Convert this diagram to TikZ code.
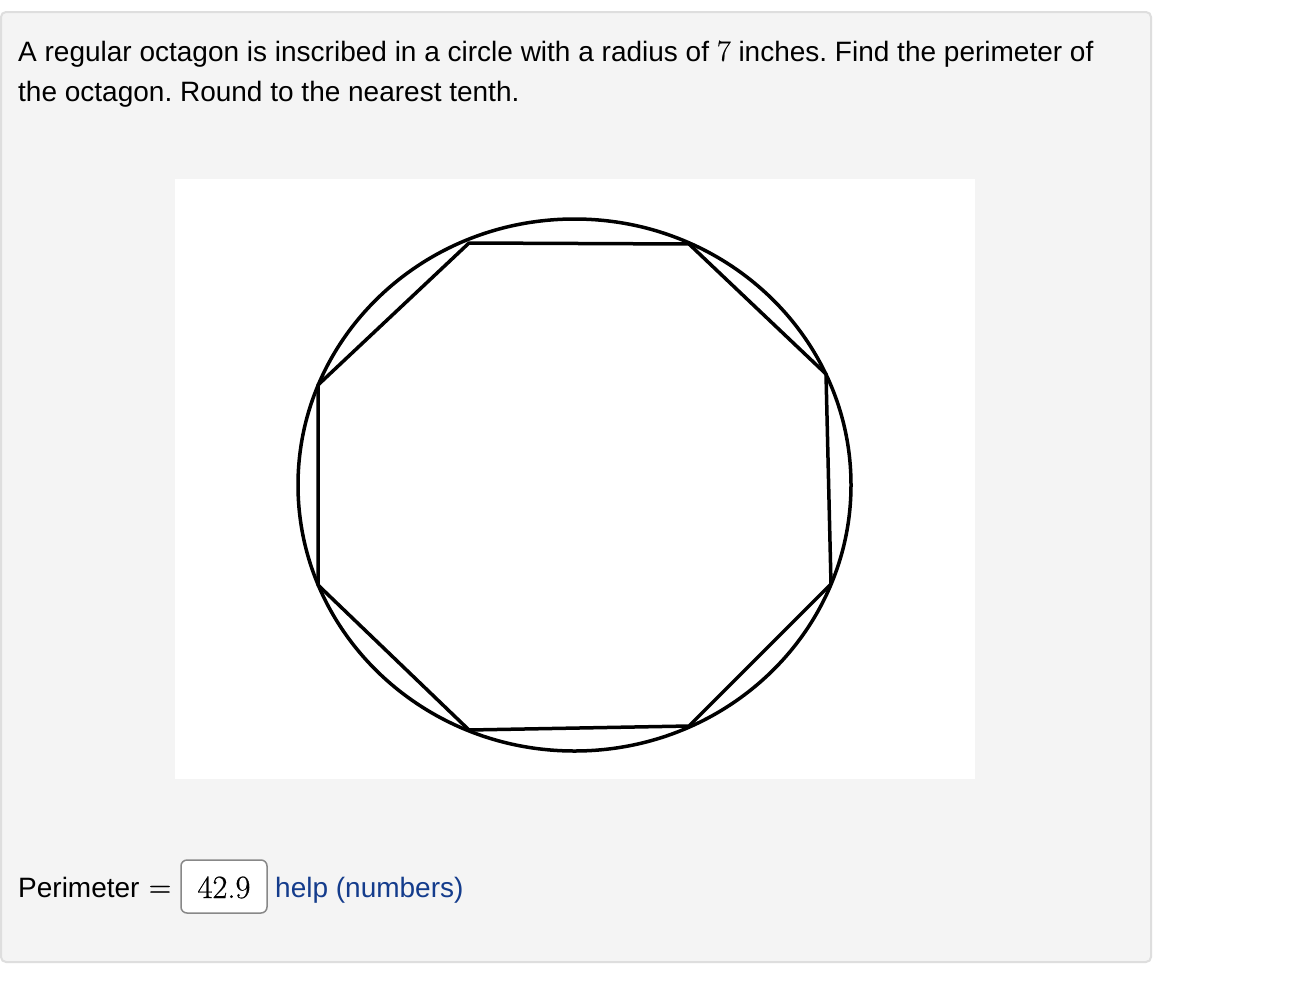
\documentclass[tikz,border=0pt]{standalone}
\usepackage{fontspec}
\setmainfont{Liberation Sans}
\newfontfamily\lmr{Latin Modern Roman}[FakeBold=0.6]
\frenchspacing
\begin{document}
\begin{tikzpicture}[x=1pt,y=-1pt,
  txt/.style={inner sep=0pt,anchor=base west,font=\fontsize{28}{40}\selectfont},
  shape line/.style={line width=3.5pt,black,line join=round}]
\useasboundingbox (0,0) rectangle (1306,988);
\fill[white] (0,0) rectangle (1306,988);
% panel
\draw[fill={rgb,255:red,244;green,244;blue,244},draw={rgb,255:red,222;green,222;blue,222},line width=2pt,rounded corners=5pt] (1,12) rectangle (1151,962);
% question text
\node[txt] (q1) at (18,61) {A regular octagon is inscribed in a circle with a radius of {\fontsize{30}{40}\selectfont\lmr 7} inches. Find the perimeter of};
\node[txt] (q2) at (18,101) {the octagon. Round to the nearest tenth.};
% figure
\fill[white] (175,179) rectangle (975,779);
\draw[shape line] (574.5,485) ellipse [x radius=276.5, y radius=266];
\draw[shape line] (469,243) -- (689,244) -- (826,374) -- (831,584) -- (689,726) -- (469,730) -- (318,585) -- (318,385) -- cycle;
% answer line
\node[txt] (pl) at (18,897) {Perimeter};
\node[inner sep=0pt,anchor=base,font=\fontsize{31}{30}\selectfont\lmr] (eq) at (160,897) {=};
\draw[draw={rgb,255:red,136;green,136;blue,136},fill=white,line width=1.5pt,rounded corners=6pt] (181,860) rectangle (267,913);
\node[inner sep=0pt,anchor=base,font=\fontsize{32.5}{30}\selectfont\lmr] (ans) at (224,898) {42.9};
\node[txt,text={rgb,255:red,20;green,60;blue,140}] (help) at (275,897) {help (numbers)};
\end{tikzpicture}
\end{document}
